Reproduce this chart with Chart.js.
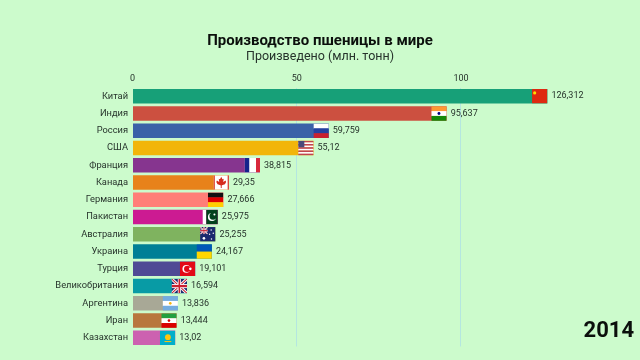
<!DOCTYPE html>
<html><head><meta charset="utf-8">
<style>html,body{margin:0;padding:0;background:#ccfbcc}canvas{display:block}</style>
<script src="https://cdn.jsdelivr.net/npm/chart.js@4"></script></head>
<body><canvas id="c" width="640" height="360"></canvas>
<script>
const categories=["Китай","Индия","Россия","США","Франция","Канада","Германия","Пакистан","Австралия","Украина","Турция","Великобритания","Аргентина","Иран","Казахстан"];
const production=[126.312,95.637,59.759,55.12,38.815,29.35,27.666,25.975,25.255,24.167,19.101,16.594,13.836,13.444,13.02];
const barColors=["#17a078","#cc5040","#3a62a8","#f2b50a","#86358f","#e8821a","#ff7f78","#cc1b92","#7fb35f","#007f96","#4f4a95","#089ba5","#a8a896","#b8773d","#cc61b0"];
const flags=["cn","in","ru","us","fr","ca","de","pk","au","ua","tr","gb","ar","ir","kz"];
const tickValues=[0,50,100];
const titleText="Производство пшеницы в мире";
const subtitleText="Произведено (млн. тонн)";
const yearText="2014";
const FONT='Roboto, "Noto Sans", sans-serif';
const INK="#26332b";

function stripesH(c,cols,w,h){cols.forEach((k,i)=>{c.fillStyle=k;c.fillRect(0,h*i/cols.length,w,h/cols.length+.3)})}
function dot(c,x,y,r,k){c.fillStyle=k;c.beginPath();c.arc(x,y,r,0,7);c.fill()}
function unionJack(c,w,h){
  c.fillStyle="#1c2a6e";c.fillRect(0,0,w,h);
  c.strokeStyle="#fff";c.lineWidth=h*.2;c.beginPath();c.moveTo(0,0);c.lineTo(w,h);c.moveTo(w,0);c.lineTo(0,h);c.stroke();
  c.strokeStyle="#c8202f";c.lineWidth=h*.07;c.beginPath();c.moveTo(0,0);c.lineTo(w,h);c.moveTo(w,0);c.lineTo(0,h);c.stroke();
  c.fillStyle="#fff";c.fillRect(w*.4,0,w*.2,h);c.fillRect(0,h*.36,w,h*.28);
  c.fillStyle="#c8202f";c.fillRect(w*.45,0,w*.1,h);c.fillRect(0,h*.42,w,h*.16);
}
const flagDraw={
  cn(c,w,h){c.fillStyle="#de2910";c.fillRect(0,0,w,h);dot(c,w*.17,h*.27,h*.11,"#ffde00");},
  in(c,w,h){stripesH(c,["#ff9933","#fff","#138808"],w,h);dot(c,w/2,h/2,h*.1,"#000080");},
  ru(c,w,h){stripesH(c,["#fff","#2440a0","#c8202f"],w,h);},
  us(c,w,h){for(let i=0;i<9;i++){c.fillStyle=i%2?"#fff":"#c0454f";c.fillRect(0,h*i/9,w,h/9+.3)}c.fillStyle="#4a4a7a";c.fillRect(0,0,w*.4,h*.45);},
  fr(c,w,h){c.fillStyle="#fff";c.fillRect(0,0,w,h);c.fillStyle="#14248c";c.fillRect(0,0,w*.3,h);c.fillStyle="#d8283c";c.fillRect(w*.74,0,w*.26,h);},
  ca(c,w,h){c.fillStyle="#fff";c.fillRect(0,0,w,h);c.fillStyle="#d52b1e";c.fillRect(0,0,w*.08,h);c.fillRect(w*.92,0,w*.08,h);
    c.fillRect(w*.47,h*.6,w*.06,h*.28);c.beginPath();
    [[.5,.1],[.58,.28],[.66,.24],[.63,.46],[.78,.36],[.82,.47],[.74,.62],[.5,.7],[.26,.62],[.18,.47],[.22,.36],[.37,.46],[.34,.24],[.42,.28]].forEach(p=>c.lineTo(w*p[0],h*p[1]));c.fill();},
  de(c,w,h){stripesH(c,["#111","#dd0000","#ffce00"],w,h);},
  pk(c,w,h){c.fillStyle="#fff";c.fillRect(0,0,w*.25,h);c.fillStyle="#01411c";c.fillRect(w*.25,0,w*.75,h);
    dot(c,w*.62,h*.5,h*.28,"#fff");dot(c,w*.69,h*.43,h*.25,"#01411c");dot(c,w*.78,h*.33,h*.07,"#fff");},
  au(c,w,h){c.fillStyle="#1c2a6e";c.fillRect(0,0,w,h);c.save();c.beginPath();c.rect(0,0,w*.5,h*.5);c.clip();unionJack(c,w*.5,h*.5);c.restore();
    [[.25,.78,.09],[.72,.2,.05],[.86,.42,.05],[.62,.5,.05],[.74,.82,.05]].forEach(s=>dot(c,w*s[0],h*s[1],h*s[2],"#fff"));},
  ua(c,w,h){stripesH(c,["#0057b7","#ffd700"],w,h);},
  tr(c,w,h){c.fillStyle="#e30a17";c.fillRect(0,0,w,h);dot(c,w*.42,h*.5,h*.27,"#fff");dot(c,w*.48,h*.5,h*.22,"#e30a17");dot(c,w*.68,h*.5,h*.09,"#fff");},
  gb(c,w,h){unionJack(c,w,h);},
  ar(c,w,h){stripesH(c,["#74acdf","#fff","#74acdf"],w,h);dot(c,w/2,h/2,h*.09,"#f6b40e");},
  ir(c,w,h){stripesH(c,["#239f40","#fff","#da0000"],w,h);dot(c,w/2,h/2,h*.09,"#da0000");},
  kz(c,w,h){c.fillStyle="#00afca";c.fillRect(0,0,w,h);dot(c,w*.52,h*.45,h*.2,"#fec50c");c.fillStyle="#fec50c";c.fillRect(w*.3,h*.72,w*.44,h*.07);}
};
const overlay={id:"overlay",afterDatasetsDraw(chart){
  const c=chart.ctx;
  chart.getDatasetMeta(0).data.forEach((bar,i)=>{
    const h=bar.height,w=h*1.06,top=bar.y-h/2;
    c.save();c.translate(bar.x-w,top);c.beginPath();c.rect(0,0,w,h);c.clip();flagDraw[flags[i]](c,w,h);c.restore();
    c.save();c.font="9px "+FONT;c.fillStyle=INK;c.textAlign="left";c.textBaseline="middle";
    c.fillText(String(production[i]).replace(".",","),bar.x+4,bar.y);c.restore();
  });
  c.save();c.font="bold 22px "+FONT;c.fillStyle="#0b0f0c";c.textAlign="right";c.textBaseline="middle";
  c.fillText(yearText,chart.width-6,chart.height-29);c.restore();
}};
new Chart(document.getElementById("c"),{
  type:"bar",
  data:{labels:categories,datasets:[{data:production,backgroundColor:barColors,barPercentage:.84,categoryPercentage:1}]},
  plugins:[overlay],
  options:{
    indexAxis:"y",responsive:false,animation:false,
    layout:{padding:{left:0,right:0,top:0,bottom:13.5}},
    plugins:{
      legend:{display:false},tooltip:{enabled:false},
      title:{display:true,text:titleText,color:"#0b0f0c",font:{family:FONT,size:15,weight:"bold",lineHeight:1},padding:{top:34,bottom:0}},
      subtitle:{display:true,text:subtitleText,color:"#26332b",font:{family:FONT,size:12.5,weight:"normal",lineHeight:1.2},padding:{top:0,bottom:0}}
    },
    scales:{
      x:{position:"top",min:0,max:154.5,
        afterBuildTicks(a){a.ticks=tickValues.map(v=>({value:v}))},
        afterFit(a){a.height=23.6},
        ticks:{color:INK,font:{family:FONT,size:9},padding:3,maxRotation:0,autoSkip:false},
        grid:{drawTicks:false,color:ctx=>ctx.tick&&ctx.tick.value===0?"rgba(0,0,0,0)":"#b4e6e0",lineWidth:1},
        border:{display:false}},
      y:{afterFit(a){a.width=132.5},
        ticks:{color:INK,font:{family:FONT,size:9.3},padding:4.5,autoSkip:false},
        grid:{display:false,drawTicks:false},border:{display:false}}
    }
  }
});
</script></body></html>
